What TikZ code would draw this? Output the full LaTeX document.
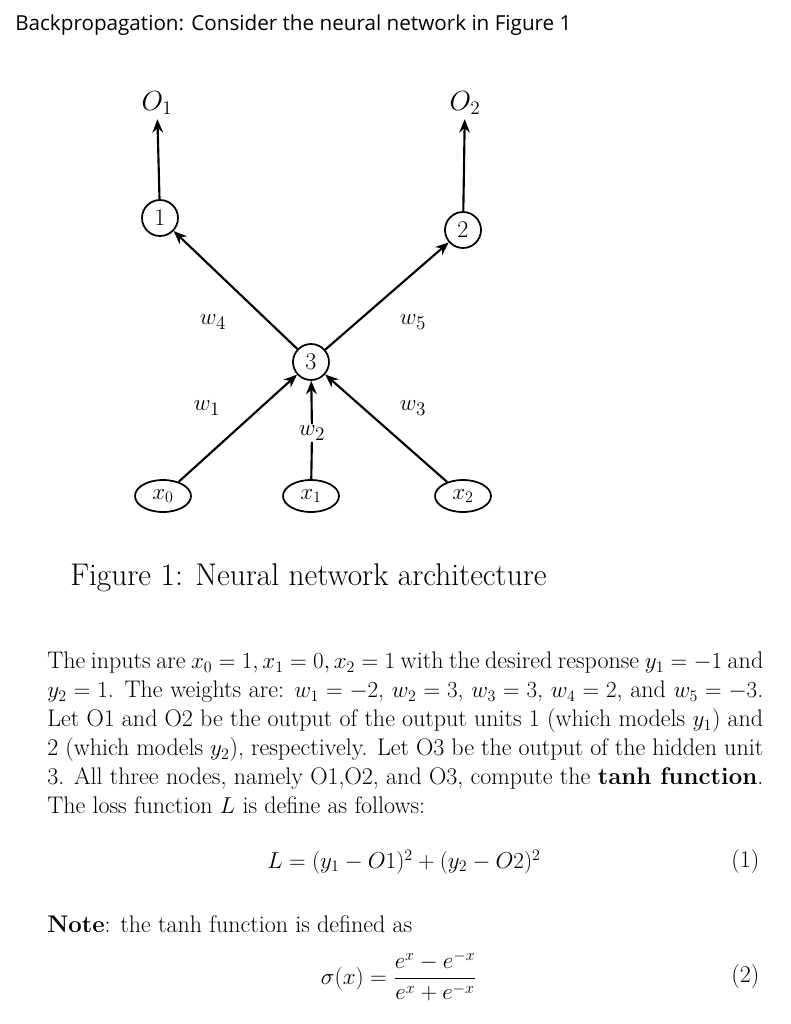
\documentclass[tikz,border=0pt]{standalone}
\usepackage{fontspec}
\newfontfamily\titlefont{Open Sans}
\usepackage{amsmath}
\usetikzlibrary{arrows.meta,shapes.geometric}
\begin{document}
\begin{tikzpicture}[x=0.75pt,y=-0.75pt,
  hid/.style={circle,draw,line width=1.3pt,minimum size=27pt,inner sep=0pt,font=\fontsize{18}{18}\selectfont},
  inp/.style={ellipse,draw,line width=1.3pt,minimum width=42pt,minimum height=24pt,inner sep=0pt,font=\fontsize{18}{18}\selectfont},
  conn/.style={line width=1.6pt,-{Stealth[length=10pt,width=8pt]}},
  wl/.style={font=\fontsize{19}{19}\selectfont},
  body/.style={font=\fontsize{18}{21.75}\selectfont,anchor=north west,inner sep=0pt}]
\useasboundingbox (0,0) rectangle (791,1024);
\fill[white] (0,0) rectangle (791,1024);
\node[anchor=west,inner sep=0pt,font=\titlefont\fontsize{15.5}{17}\selectfont] (title) at (15,25) {Backpropagation: Consider the neural network in Figure 1};
\node[hid] (n1) at (160,218) {1};
\node[hid] (n2) at (463,230) {2};
\node[hid] (n3) at (311,362) {3};
\node[inp] (x0) at (163,496) {$x_0$};
\node[inp] (x1) at (311,496) {$x_1$};
\node[inp] (x2) at (463,496) {$x_2$};
\node[font=\fontsize{22}{22}\selectfont] (o1) at (157,103) {$O_1$};
\node[font=\fontsize{22}{22}\selectfont] (o2) at (465,103) {$O_2$};
\draw[conn] (n1) -- (o1);
\draw[conn] (n2) -- (o2);
\draw[conn] (n3) -- (n1);
\draw[conn] (n3) -- (n2);
\draw[conn] (x0) -- (n3);
\draw[conn] (x2) -- (n3);
\node[wl,fill=white,inner sep=1pt] (w2) at (312,433) {$w_2$};
\draw[line width=1.6pt] (x1) -- (w2);
\draw[conn] (w2) -- (n3);
\node[wl] (w4) at (213,322) {$w_4$};
\node[wl] (w5) at (413,322) {$w_5$};
\node[wl] (w1) at (207,408) {$w_1$};
\node[wl] (w3) at (413,408) {$w_3$};
\node[anchor=west,inner sep=0pt,font=\fontsize{23.5}{24}\selectfont] (cap) at (70,578) {Figure 1: Neural network architecture};
\node[body,text width=537pt,align=justify] (para) at (47,652) {The inputs are $x_0=1, x_1=0, x_2=1$ with the desired response $y_1=-1$ and $y_2=1$. The weights are: $w_1=-2$, $w_2=3$, $w_3=3$, $w_4=2$, and $w_5=-3$. Let O1 and O2 be the output of the output units 1 (which models $y_1$) and 2 (which models $y_2$), respectively. Let O3 be the output of the hidden unit 3. All three nodes, namely O1,O2, and O3, compute the \textbf{tanh function}. The loss function $L$ is define as follows:};
\node[font=\fontsize{18}{22}\selectfont] (eq1) at (404,862) {$L=(y_1-O1)^2+(y_2-O2)^2$};
\node[anchor=east,font=\fontsize{18}{22}\selectfont] (eq1n) at (764,862) {(1)};
\node[anchor=west,inner sep=0pt,font=\fontsize{18}{22}\selectfont] (note) at (47,924) {\textbf{Note}: the tanh function is defined as};
\node[font=\fontsize{18}{22}\selectfont] (eq2) at (399,976) {$\sigma(x)=\dfrac{e^x-e^{-x}}{e^x+e^{-x}}$};
\node[anchor=east,font=\fontsize{18}{22}\selectfont] (eq2n) at (764,976) {(2)};
\end{tikzpicture}
\end{document}
